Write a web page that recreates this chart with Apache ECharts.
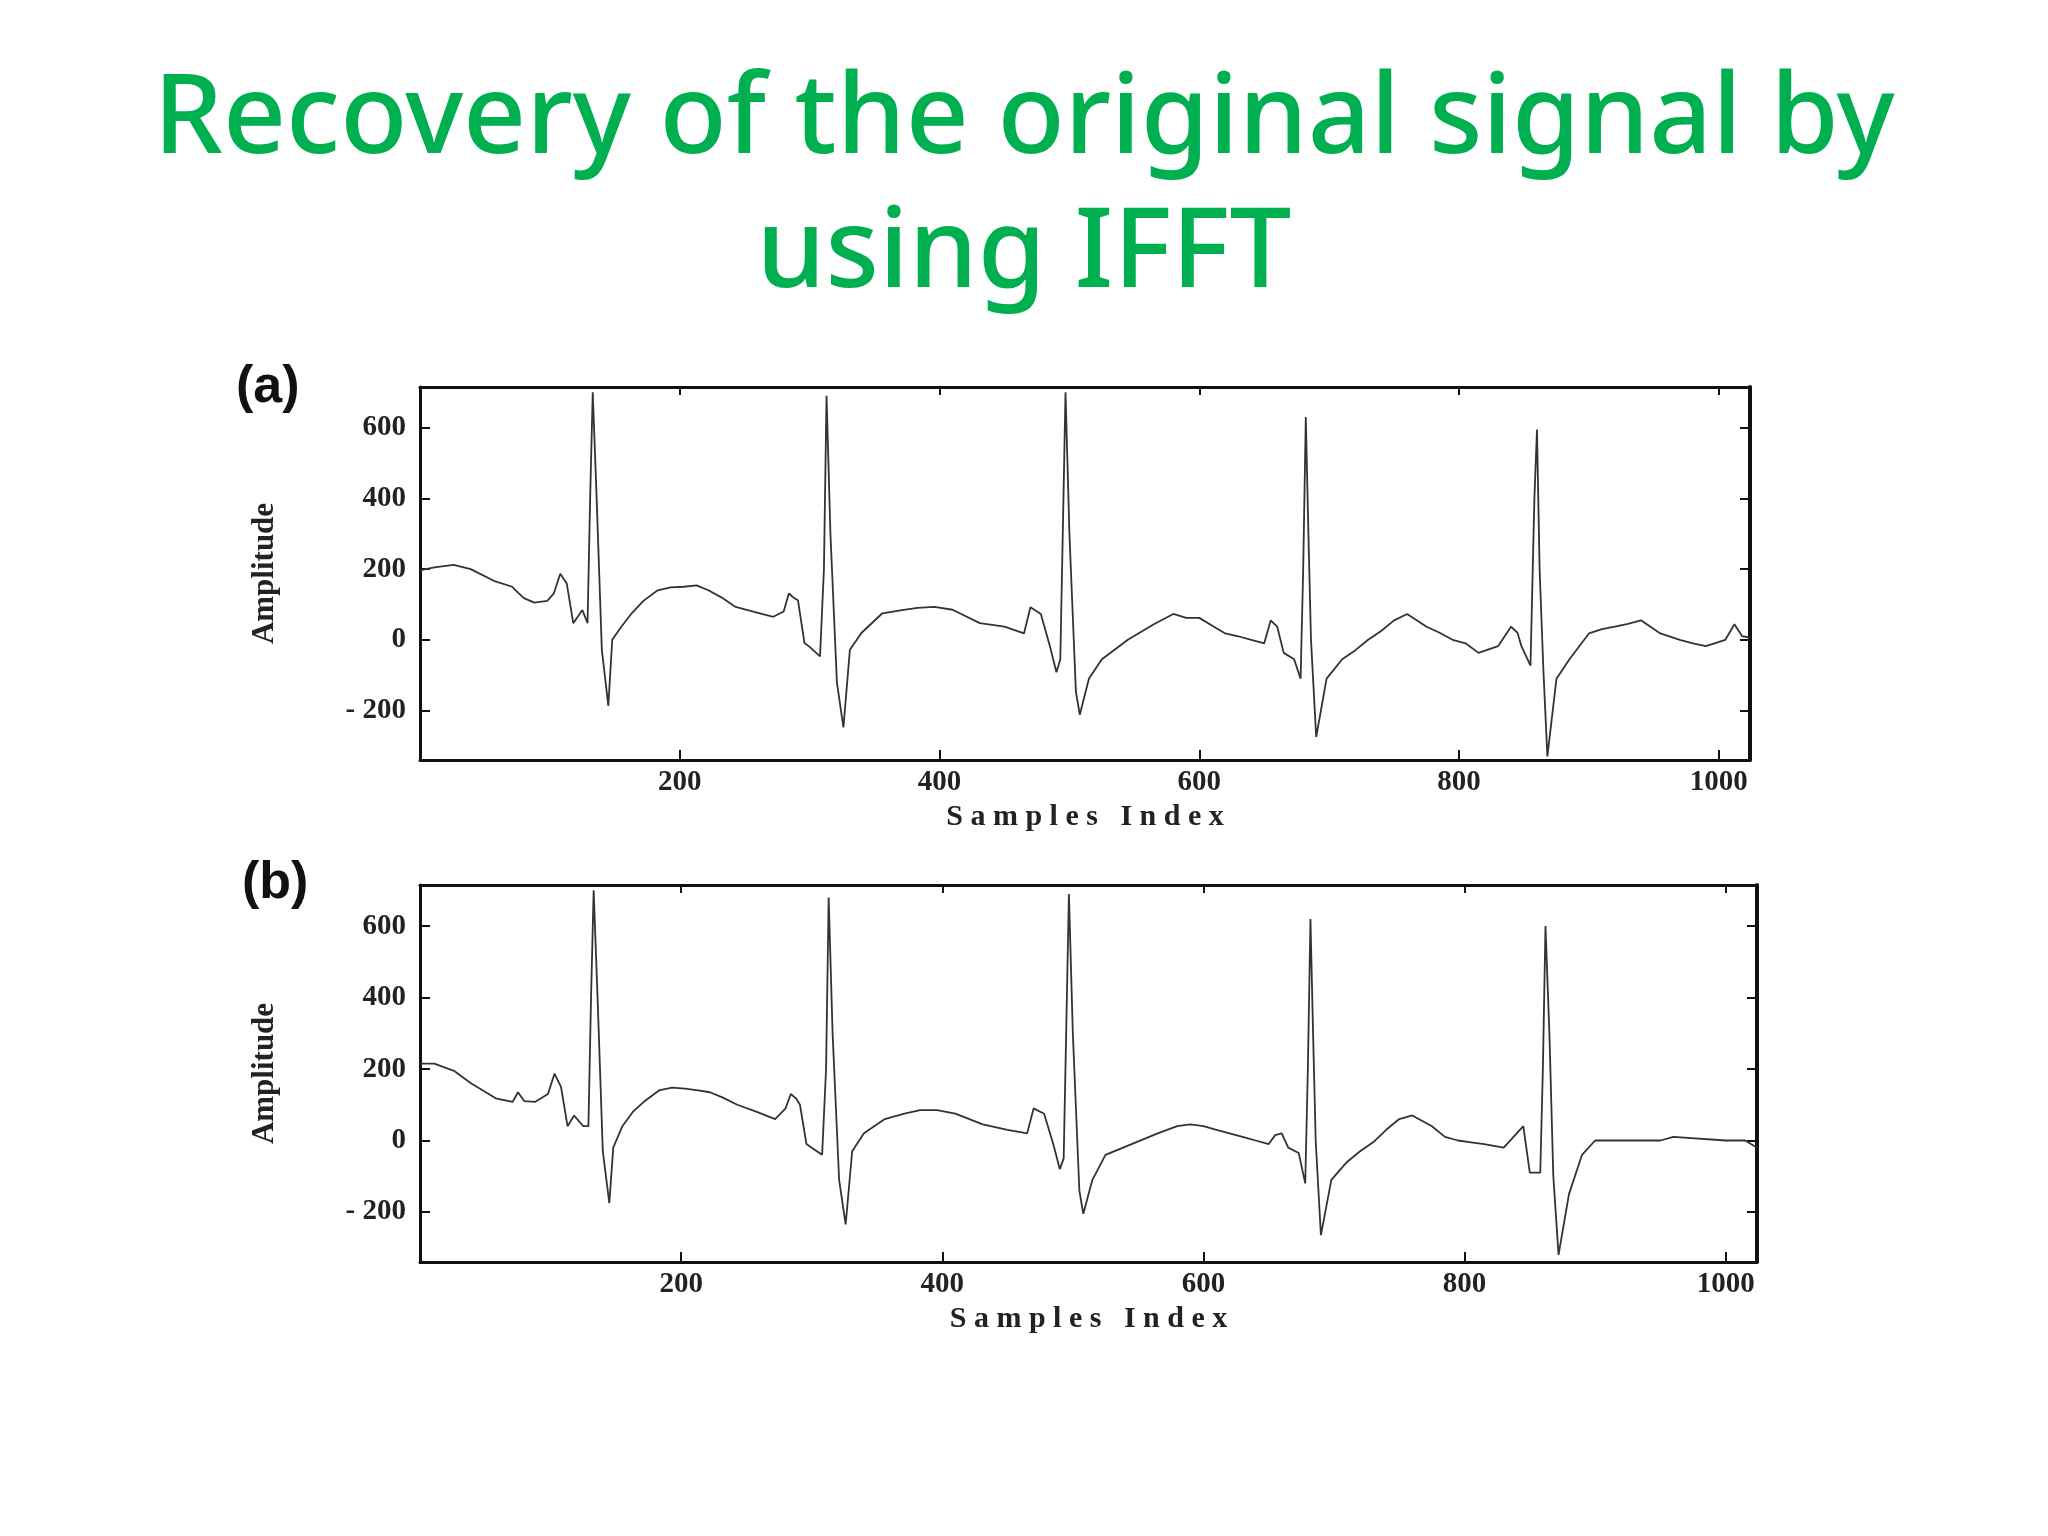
<!DOCTYPE html>
<html><head><meta charset="utf-8">
<script src="https://cdn.jsdelivr.net/npm/echarts@6/dist/echarts.min.js"></script>
<style>html,body{margin:0;background:#fff}#c{width:2048px;height:1536px}</style>
</head><body><div id="c"></div>
<script>
const titleLines = ["Recovery of the original signal by", "using IFFT"];
const xTicks = [200, 400, 600, 800, 1000];
const yTicks = [-200, 0, 200, 400, 600];
const sigA_x = [0,11,26,39,58,71,73,80,88,98,103,108,113,118,125,129,131,133,136,140,145,148,155,163,172,183,193,203,213,222,232,243,258,272,280,284,288,291,296,300,308,311,313,316,321,326,331,340,356,371,383,396,410,431,450,465,470,478,485,490,493,497,500,505,508,515,525,545,565,580,590,600,610,620,630,640,650,655,660,665,673,678,680,682,684,686,690,698,710,720,730,740,750,760,775,785,795,805,815,830,840,845,848,855,858,860,862,865,868,875,885,900,910,920,930,940,955,970,980,990,1005,1012,1018,1024];
const sigA_y = [196,205,212,200,165,150,142,118,105,110,131,187,159,47,84,47,400,700,400,-28,-187,0,37,75,110,140,148,150,154,140,120,93,78,65,80,131,118,112,-9,-20,-47,200,690,300,-121,-248,-28,20,75,84,90,93,85,47,37,18,92,73,-18,-92,-55,700,300,-147,-212,-110,-55,0,44,73,62,62,40,18,10,0,-10,55,37,-37,-55,-110,200,630,300,0,-275,-110,-55,-30,0,25,55,73,37,20,0,-10,-37,-18,37,20,-18,-73,400,595,200,-92,-330,-110,-55,18,30,37,45,55,18,0,-10,-18,0,44,10,7];
const sigB_x = [0,11,26,39,58,71,75,80,88,98,103,108,113,118,125,129,131,133,136,140,145,148,155,163,172,183,193,203,213,222,232,243,258,272,280,284,288,291,296,300,308,311,313,316,321,326,331,340,356,371,383,396,410,431,450,465,470,478,485,490,493,497,500,505,508,515,525,545,565,580,590,600,610,620,630,640,650,655,660,665,673,678,680,682,684,686,690,698,710,720,730,740,750,760,775,785,795,805,815,830,840,845,850,858,860,862,865,868,872,880,890,900,920,950,960,1000,1010,1015,1024];
const sigB_y = [215,215,195,160,118,108,135,110,108,130,187,150,40,70,40,40,400,700,400,-30,-175,-20,40,80,110,140,148,145,140,135,120,100,80,60,90,130,118,100,-10,-20,-40,200,680,300,-110,-235,-30,20,60,75,85,85,75,45,30,20,90,75,-10,-80,-50,690,300,-140,-205,-110,-40,-10,20,40,45,40,30,20,10,0,-10,15,20,-20,-35,-120,200,620,300,0,-265,-110,-60,-30,-5,30,60,70,40,10,0,-5,-10,-20,20,40,-90,-90,200,600,300,-100,-320,-150,-40,0,0,0,10,0,0,0,-20,50];
const ptsA = sigA_x.map((x,i)=>[x,sigA_y[i]]);
const ptsB = sigB_x.map((x,i)=>[x,sigB_y[i]]);
const serif = 'Liberation Serif';
const axisFont = {fontFamily:serif,fontWeight:'bold',fontSize:29,color:'#222'};
const line = w => ({show:true,onZero:false,lineStyle:{color:'#111',width:w}});
const tick = (vals,l) => ({show:true,inside:true,length:l,customValues:vals,lineStyle:{color:'#111',width:2}});
function xAx(grid){return [
 {type:'value',gridIndex:grid,min:0,max:1024,position:'bottom',
  axisLine:line(3),splitLine:{show:false},axisTick:tick(xTicks,10),
  axisLabel:{...axisFont,customValues:xTicks,margin:8,formatter:v=>String(v)},
  name:'S a m p l e s   I n d e x',nameLocation:'middle',nameGap:42,nameTextStyle:{...axisFont,fontSize:30}},
 {type:'value',gridIndex:grid,min:0,max:1024,position:'top',
  axisLine:line(3),splitLine:{show:false},axisTick:tick(xTicks,8),axisLabel:{show:false}}];}
function yAx(grid){return [
 {type:'value',gridIndex:grid,min:-340,max:715,position:'left',
  axisLine:line(3),splitLine:{show:false},axisTick:tick(yTicks,10),
  axisLabel:{...axisFont,customValues:yTicks,margin:14,formatter:v=>v<0?'- '+(-v):String(v)},
  name:'Amplitude',nameLocation:'middle',nameGap:140,nameTextStyle:{...axisFont,fontSize:31}},
 {type:'value',gridIndex:grid,min:-340,max:715,position:'right',
  axisLine:line(4),splitLine:{show:false},axisTick:tick(yTicks,10),axisLabel:{show:false}}];}
const chart = echarts.init(document.getElementById('c'));
chart.setOption({
 backgroundColor:'#fff',animation:false,
 title:[{text:titleLines[0],left:'center',top:62,textStyle:{fontFamily:'Comic Sans MS, Noto Sans',fontWeight:500,fontSize:110,color:'#00b050'}},
        {text:titleLines[1],left:'center',top:196,textStyle:{fontFamily:'Comic Sans MS, Noto Sans',fontWeight:500,fontSize:110,color:'#00b050'}}],
 graphic:[{type:'text',left:236,top:362,style:{text:'(a)',font:'bold 52px Liberation Sans',fill:'#111'}},
          {type:'text',left:242,top:858,style:{text:'(b)',font:'bold 52px Liberation Sans',fill:'#111'}}],
 grid:[{left:420,right:298,top:387,height:373},{left:420,right:291,top:885,height:377}],
 xAxis:[...xAx(0),...xAx(1)],
 yAxis:[...yAx(0),...yAx(1)],
 series:[
  {type:'line',xAxisIndex:0,yAxisIndex:0,data:ptsA,showSymbol:false,lineStyle:{color:'#333',width:1.8}},
  {type:'line',xAxisIndex:2,yAxisIndex:2,data:ptsB,showSymbol:false,lineStyle:{color:'#333',width:1.8}}]
});
</script></body></html>
